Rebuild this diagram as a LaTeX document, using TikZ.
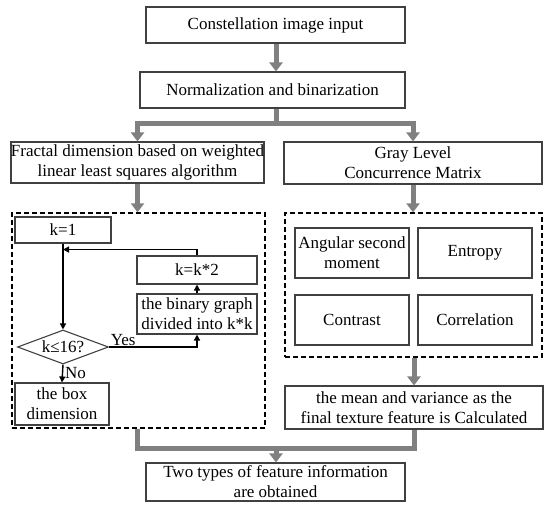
\documentclass[tikz,border=0pt]{standalone}
\usepackage{fontspec}
\setmainfont{Liberation Serif}
\usetikzlibrary{arrows.meta, shapes.geometric, calc}
\colorlet{FlowGray}{black!50}
\colorlet{BoxEdge}{black!75}
\tikzset{
    stepbox/.style={draw=BoxEdge, line width=1.1pt, align=center, inner sep=0pt},
    decision/.style={diamond, draw=BoxEdge, line width=1.1pt, inner sep=0pt,
        minimum width=91pt, minimum height=34pt},
    groupbox/.style={draw=black, dashed, line width=1.3pt, dash pattern=on 5pt off 3pt,
        inner sep=0pt},
    flowline/.style={draw=FlowGray, line width=5pt},
    flowarrow/.style={flowline, -{Triangle[width=13pt,length=9pt]}},
    loopline/.style={line width=1.4pt, -{Triangle[width=6pt,length=6pt]}}
}

\begin{document}
\begin{tikzpicture}[x=1pt, y=-1pt, font=\fontsize{17}{20}\selectfont]

\useasboundingbox (0,0) rectangle (550,507);

% main chain
\node[stepbox, minimum width=259pt, minimum height=36pt] (input) at (275.5,25) {Constellation image input};
\node[stepbox, minimum width=265pt, minimum height=36pt] (norm) at (272.5,90) {Normalization and binarization};
\node[stepbox, minimum width=253pt, minimum height=41pt] (fractal) at (137.5,162.5)
    {Fractal dimension based on weighted\\linear least squares algorithm};
\node[stepbox, minimum width=258pt, minimum height=42pt] (glcm) at (413,163)
    {Gray Level\\Concurrence Matrix};

% the two groups
\node[groupbox, minimum width=253pt, minimum height=215pt] (fracgroup) at (138.5,320.5) {};
\node[groupbox, minimum width=257pt, minimum height=144pt] (glcmgroup) at (413.5,285) {};

% box counting loop
\node[stepbox, minimum width=96pt, minimum height=26pt] (kone) at (63,230) {k=1};
\node[stepbox, minimum width=120pt, minimum height=28pt] (kdouble) at (197,270) {k=k*2};
\node[stepbox, minimum width=120pt, minimum height=40pt] (split) at (197,314)
    {the binary graph\\divided into k*k};
\node[decision] (test) at (63,347) {\makebox[0pt]{k≤16?}};
\node[stepbox, minimum width=94pt, minimum height=42pt] (boxdim) at (62,404) {the box\\dimension};

% texture features
\node[stepbox, minimum width=114pt, minimum height=50pt] (asm) at (352,253) {Angular second\\moment};
\node[stepbox, minimum width=114pt, minimum height=50pt] (entropy) at (475,253) {Entropy};
\node[stepbox, minimum width=114pt, minimum height=50pt] (contrast) at (352,320) {Contrast};
\node[stepbox, minimum width=114pt, minimum height=50pt] (correl) at (475,320) {Correlation};

\node[stepbox, minimum width=258pt, minimum height=43pt] (mean) at (414,407.5)
    {the mean and variance as the\\final texture feature is Calculated};
\node[stepbox, minimum width=259pt, minimum height=38pt] (result) at (275.5,482)
    {Two types of feature information\\are obtained};

% gray connectors
\coordinate (fork) at (276,123);
\coordinate (join) at (276,448);
\draw[flowarrow] (input.south -| fork) -- (norm.north -| fork);
\draw[flowline] (norm.south -| fork) -- (fork);
\draw[flowarrow] (fork) -| (fractal.north);
\draw[flowarrow] (fork) -| (glcm.north);
\draw[flowarrow] (fractal.south) -- (fractal.south |- fracgroup.north);
\draw[flowarrow] (glcm.south) -- (glcm.south |- glcmgroup.north);
\draw[flowarrow] (glcmgroup.south -| mean) -- (mean.north);
\draw[flowline] (fractal.south |- fracgroup.south) |- (join) -| (mean.south);
\draw[flowarrow] (join) -- (join |- result.north);

% black connectors inside the loop
\coordinate (back) at ($(kone.south)+(0,6)$);
\draw[loopline] (kone.south) -- (test.north);
\draw[loopline] (kdouble.north) |- (back);
\draw[loopline] (split.north) -- (kdouble.south);
\draw[loopline] (test.east) -| node[pos=0, anchor=south west, inner sep=1pt] {Yes} (split.south);
\draw[loopline] (test.south) -- node[right, inner sep=2pt] {No} (boxdim.north);

\end{tikzpicture}
\end{document}
